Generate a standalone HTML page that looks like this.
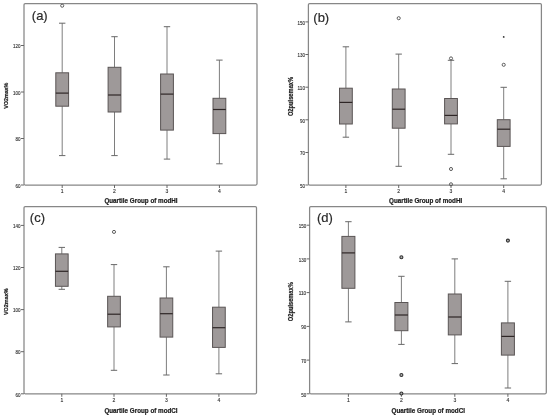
<!DOCTYPE html>
<html><head><meta charset="utf-8"><style>
html,body{margin:0;padding:0;background:#fff;}
body{width:550px;height:417px;overflow:hidden;}
svg{display:block;}
.tk{font-family:"Liberation Sans",Arial,sans-serif;font-size:5.0px;fill:#2e2e2e;stroke:#2e2e2e;stroke-width:0.12px;}
.at{font-family:"Liberation Sans",Arial,sans-serif;font-size:6.6px;font-weight:bold;fill:#1c1c1c;stroke:#1c1c1c;stroke-width:0.22px;}
.pl{font-family:"Liberation Sans",Arial,sans-serif;font-size:13px;fill:#2a2a2a;stroke:#2a2a2a;stroke-width:0.2px;}
</style></head><body>
<svg width="550" height="417" viewBox="0 0 550 417">
<rect width="550" height="417" fill="#fff"/>
<rect x="24" y="3.5" width="233" height="181.5" rx="1.2" fill="none" stroke="#878787" stroke-width="1.25"/>
<line x1="21" y1="185" x2="24" y2="185" stroke="#666" stroke-width="1"/>
<text x="20.6" y="187.7" class="tk" text-anchor="end" textLength="5" lengthAdjust="spacingAndGlyphs">60</text>
<line x1="21" y1="138.5" x2="24" y2="138.5" stroke="#666" stroke-width="1"/>
<text x="20.6" y="141.2" class="tk" text-anchor="end" textLength="5" lengthAdjust="spacingAndGlyphs">80</text>
<line x1="21" y1="92" x2="24" y2="92" stroke="#666" stroke-width="1"/>
<text x="20.6" y="94.7" class="tk" text-anchor="end" textLength="7.5" lengthAdjust="spacingAndGlyphs">100</text>
<line x1="21" y1="45.5" x2="24" y2="45.5" stroke="#666" stroke-width="1"/>
<text x="20.6" y="48.2" class="tk" text-anchor="end" textLength="7.5" lengthAdjust="spacingAndGlyphs">120</text>
<line x1="62.2" y1="185" x2="62.2" y2="188" stroke="#666" stroke-width="1"/>
<text x="62.2" y="192.8" class="tk" text-anchor="middle">1</text>
<line x1="114.5" y1="185" x2="114.5" y2="188" stroke="#666" stroke-width="1"/>
<text x="114.5" y="192.8" class="tk" text-anchor="middle">2</text>
<line x1="167" y1="185" x2="167" y2="188" stroke="#666" stroke-width="1"/>
<text x="167" y="192.8" class="tk" text-anchor="middle">3</text>
<line x1="219.4" y1="185" x2="219.4" y2="188" stroke="#666" stroke-width="1"/>
<text x="219.4" y="192.8" class="tk" text-anchor="middle">4</text>
<line x1="62.2" y1="23.2" x2="62.2" y2="72.8" stroke="#7e7e7e" stroke-width="1.0"/>
<line x1="62.2" y1="106.2" x2="62.2" y2="155.6" stroke="#7e7e7e" stroke-width="1.0"/>
<line x1="59" y1="23.2" x2="65.4" y2="23.2" stroke="#686868" stroke-width="1.0"/>
<line x1="59" y1="155.6" x2="65.4" y2="155.6" stroke="#686868" stroke-width="1.0"/>
<rect x="55.8" y="72.8" width="12.8" height="33.4" fill="#9e9999" stroke="#5a5555" stroke-width="1.0"/>
<line x1="55.8" y1="93.1" x2="68.6" y2="93.1" stroke="#2e2626" stroke-width="1.2"/>
<circle cx="62.2" cy="5.7" r="1.55" fill="none" stroke="#555" stroke-width="0.95"/>
<line x1="114.5" y1="36.7" x2="114.5" y2="67.3" stroke="#7e7e7e" stroke-width="1.0"/>
<line x1="114.5" y1="112" x2="114.5" y2="155.6" stroke="#7e7e7e" stroke-width="1.0"/>
<line x1="111.3" y1="36.7" x2="117.7" y2="36.7" stroke="#686868" stroke-width="1.0"/>
<line x1="111.3" y1="155.6" x2="117.7" y2="155.6" stroke="#686868" stroke-width="1.0"/>
<rect x="108.1" y="67.3" width="12.8" height="44.7" fill="#9e9999" stroke="#5a5555" stroke-width="1.0"/>
<line x1="108.1" y1="95" x2="120.9" y2="95" stroke="#2e2626" stroke-width="1.2"/>
<line x1="167" y1="26.7" x2="167" y2="74" stroke="#7e7e7e" stroke-width="1.0"/>
<line x1="167" y1="130.1" x2="167" y2="159.1" stroke="#7e7e7e" stroke-width="1.0"/>
<line x1="163.8" y1="26.7" x2="170.2" y2="26.7" stroke="#686868" stroke-width="1.0"/>
<line x1="163.8" y1="159.1" x2="170.2" y2="159.1" stroke="#686868" stroke-width="1.0"/>
<rect x="160.6" y="74" width="12.8" height="56.1" fill="#9e9999" stroke="#5a5555" stroke-width="1.0"/>
<line x1="160.6" y1="94.1" x2="173.4" y2="94.1" stroke="#2e2626" stroke-width="1.2"/>
<line x1="219.4" y1="60.1" x2="219.4" y2="98.3" stroke="#7e7e7e" stroke-width="1.0"/>
<line x1="219.4" y1="133.6" x2="219.4" y2="163.8" stroke="#7e7e7e" stroke-width="1.0"/>
<line x1="216.2" y1="60.1" x2="222.6" y2="60.1" stroke="#686868" stroke-width="1.0"/>
<line x1="216.2" y1="163.8" x2="222.6" y2="163.8" stroke="#686868" stroke-width="1.0"/>
<rect x="213" y="98.3" width="12.8" height="35.3" fill="#9e9999" stroke="#5a5555" stroke-width="1.0"/>
<line x1="213" y1="109.5" x2="225.8" y2="109.5" stroke="#2e2626" stroke-width="1.2"/>
<text x="31.8" y="19.9" class="pl">(a)</text>
<text x="141" y="202.6" class="at" text-anchor="middle" textLength="73.2" lengthAdjust="spacingAndGlyphs">Quartile Group of modHI</text>
<text transform="translate(8.3,95.7) rotate(-90)" class="at" style="font-size:6.1px" text-anchor="middle" textLength="26.0" lengthAdjust="spacingAndGlyphs">VO2max%</text>
<rect x="308.4" y="3.5" width="233" height="181.5" rx="1.2" fill="none" stroke="#878787" stroke-width="1.25"/>
<line x1="305.4" y1="185" x2="308.4" y2="185" stroke="#666" stroke-width="1"/>
<text x="305" y="187.7" class="tk" text-anchor="end" textLength="5" lengthAdjust="spacingAndGlyphs">50</text>
<line x1="305.4" y1="152.5" x2="308.4" y2="152.5" stroke="#666" stroke-width="1"/>
<text x="305" y="155.2" class="tk" text-anchor="end" textLength="5" lengthAdjust="spacingAndGlyphs">70</text>
<line x1="305.4" y1="119.8" x2="308.4" y2="119.8" stroke="#666" stroke-width="1"/>
<text x="305" y="122.5" class="tk" text-anchor="end" textLength="5" lengthAdjust="spacingAndGlyphs">90</text>
<line x1="305.4" y1="87.2" x2="308.4" y2="87.2" stroke="#666" stroke-width="1"/>
<text x="305" y="89.9" class="tk" text-anchor="end" textLength="7.5" lengthAdjust="spacingAndGlyphs">110</text>
<line x1="305.4" y1="54.5" x2="308.4" y2="54.5" stroke="#666" stroke-width="1"/>
<text x="305" y="57.2" class="tk" text-anchor="end" textLength="7.5" lengthAdjust="spacingAndGlyphs">130</text>
<line x1="305.4" y1="21.9" x2="308.4" y2="21.9" stroke="#666" stroke-width="1"/>
<text x="305" y="24.6" class="tk" text-anchor="end" textLength="7.5" lengthAdjust="spacingAndGlyphs">150</text>
<line x1="345.9" y1="185" x2="345.9" y2="188" stroke="#666" stroke-width="1"/>
<text x="345.9" y="192.8" class="tk" text-anchor="middle">1</text>
<line x1="398.7" y1="185" x2="398.7" y2="188" stroke="#666" stroke-width="1"/>
<text x="398.7" y="192.8" class="tk" text-anchor="middle">2</text>
<line x1="451" y1="185" x2="451" y2="188" stroke="#666" stroke-width="1"/>
<text x="451" y="192.8" class="tk" text-anchor="middle">3</text>
<line x1="503.7" y1="185" x2="503.7" y2="188" stroke="#666" stroke-width="1"/>
<text x="503.7" y="192.8" class="tk" text-anchor="middle">4</text>
<line x1="345.9" y1="46.8" x2="345.9" y2="88.2" stroke="#7e7e7e" stroke-width="1.0"/>
<line x1="345.9" y1="124" x2="345.9" y2="137.2" stroke="#7e7e7e" stroke-width="1.0"/>
<line x1="342.7" y1="46.8" x2="349.1" y2="46.8" stroke="#686868" stroke-width="1.0"/>
<line x1="342.7" y1="137.2" x2="349.1" y2="137.2" stroke="#686868" stroke-width="1.0"/>
<rect x="339.5" y="88.2" width="12.8" height="35.8" fill="#9e9999" stroke="#5a5555" stroke-width="1.0"/>
<line x1="339.5" y1="102.4" x2="352.3" y2="102.4" stroke="#2e2626" stroke-width="1.2"/>
<line x1="398.7" y1="54.1" x2="398.7" y2="89" stroke="#7e7e7e" stroke-width="1.0"/>
<line x1="398.7" y1="128.2" x2="398.7" y2="166.3" stroke="#7e7e7e" stroke-width="1.0"/>
<line x1="395.5" y1="54.1" x2="401.9" y2="54.1" stroke="#686868" stroke-width="1.0"/>
<line x1="395.5" y1="166.3" x2="401.9" y2="166.3" stroke="#686868" stroke-width="1.0"/>
<rect x="392.3" y="89" width="12.8" height="39.2" fill="#9e9999" stroke="#5a5555" stroke-width="1.0"/>
<line x1="392.3" y1="109.2" x2="405.1" y2="109.2" stroke="#2e2626" stroke-width="1.2"/>
<circle cx="398.7" cy="18.2" r="1.55" fill="none" stroke="#555" stroke-width="0.95"/>
<line x1="451" y1="60.3" x2="451" y2="98.5" stroke="#7e7e7e" stroke-width="1.0"/>
<line x1="451" y1="123.9" x2="451" y2="154.3" stroke="#7e7e7e" stroke-width="1.0"/>
<line x1="447.8" y1="60.3" x2="454.2" y2="60.3" stroke="#686868" stroke-width="1.0"/>
<line x1="447.8" y1="154.3" x2="454.2" y2="154.3" stroke="#686868" stroke-width="1.0"/>
<rect x="444.6" y="98.5" width="12.8" height="25.4" fill="#9e9999" stroke="#5a5555" stroke-width="1.0"/>
<line x1="444.6" y1="115.4" x2="457.4" y2="115.4" stroke="#2e2626" stroke-width="1.2"/>
<circle cx="451" cy="58.4" r="1.55" fill="none" stroke="#555" stroke-width="0.95"/>
<circle cx="451" cy="169" r="1.55" fill="none" stroke="#555" stroke-width="0.95"/>
<circle cx="451" cy="184.3" r="1.55" fill="none" stroke="#555" stroke-width="0.95"/>
<line x1="503.7" y1="87.3" x2="503.7" y2="119.7" stroke="#7e7e7e" stroke-width="1.0"/>
<line x1="503.7" y1="146.4" x2="503.7" y2="178.8" stroke="#7e7e7e" stroke-width="1.0"/>
<line x1="500.5" y1="87.3" x2="506.9" y2="87.3" stroke="#686868" stroke-width="1.0"/>
<line x1="500.5" y1="178.8" x2="506.9" y2="178.8" stroke="#686868" stroke-width="1.0"/>
<rect x="497.3" y="119.7" width="12.8" height="26.7" fill="#9e9999" stroke="#5a5555" stroke-width="1.0"/>
<line x1="497.3" y1="129.2" x2="510.1" y2="129.2" stroke="#2e2626" stroke-width="1.2"/>
<circle cx="503.7" cy="64.8" r="1.55" fill="none" stroke="#555" stroke-width="0.95"/>
<circle cx="503.7" cy="36.9" r="0.9" fill="#333"/>
<text x="313.3" y="21.7" class="pl">(b)</text>
<text x="425.6" y="202.6" class="at" text-anchor="middle" textLength="73.2" lengthAdjust="spacingAndGlyphs">Quartile Group of modHI</text>
<text transform="translate(292.6,96.5) rotate(-90)" class="at" style="font-size:6.6px" text-anchor="middle" textLength="39.2" lengthAdjust="spacingAndGlyphs">O2pulsemax%</text>
<rect x="24" y="206.5" width="232.5" height="187.3" rx="1.2" fill="none" stroke="#878787" stroke-width="1.25"/>
<line x1="21" y1="393.8" x2="24" y2="393.8" stroke="#666" stroke-width="1"/>
<text x="20.6" y="396.5" class="tk" text-anchor="end" textLength="5" lengthAdjust="spacingAndGlyphs">60</text>
<line x1="21" y1="351.7" x2="24" y2="351.7" stroke="#666" stroke-width="1"/>
<text x="20.6" y="354.4" class="tk" text-anchor="end" textLength="5" lengthAdjust="spacingAndGlyphs">80</text>
<line x1="21" y1="309.6" x2="24" y2="309.6" stroke="#666" stroke-width="1"/>
<text x="20.6" y="312.3" class="tk" text-anchor="end" textLength="7.5" lengthAdjust="spacingAndGlyphs">100</text>
<line x1="21" y1="267.5" x2="24" y2="267.5" stroke="#666" stroke-width="1"/>
<text x="20.6" y="270.2" class="tk" text-anchor="end" textLength="7.5" lengthAdjust="spacingAndGlyphs">120</text>
<line x1="21" y1="225.4" x2="24" y2="225.4" stroke="#666" stroke-width="1"/>
<text x="20.6" y="228.1" class="tk" text-anchor="end" textLength="7.5" lengthAdjust="spacingAndGlyphs">140</text>
<line x1="61.8" y1="393.8" x2="61.8" y2="396.8" stroke="#666" stroke-width="1"/>
<text x="61.8" y="401.6" class="tk" text-anchor="middle">1</text>
<line x1="114" y1="393.8" x2="114" y2="396.8" stroke="#666" stroke-width="1"/>
<text x="114" y="401.6" class="tk" text-anchor="middle">2</text>
<line x1="166.4" y1="393.8" x2="166.4" y2="396.8" stroke="#666" stroke-width="1"/>
<text x="166.4" y="401.6" class="tk" text-anchor="middle">3</text>
<line x1="218.9" y1="393.8" x2="218.9" y2="396.8" stroke="#666" stroke-width="1"/>
<text x="218.9" y="401.6" class="tk" text-anchor="middle">4</text>
<line x1="61.8" y1="247.4" x2="61.8" y2="253.9" stroke="#7e7e7e" stroke-width="1.0"/>
<line x1="61.8" y1="286.3" x2="61.8" y2="289.3" stroke="#7e7e7e" stroke-width="1.0"/>
<line x1="58.6" y1="247.4" x2="65" y2="247.4" stroke="#686868" stroke-width="1.0"/>
<line x1="58.6" y1="289.3" x2="65" y2="289.3" stroke="#686868" stroke-width="1.0"/>
<rect x="55.45" y="253.9" width="12.7" height="32.4" fill="#9e9999" stroke="#5a5555" stroke-width="1.0"/>
<line x1="55.45" y1="271.3" x2="68.15" y2="271.3" stroke="#2e2626" stroke-width="1.2"/>
<line x1="114" y1="264.6" x2="114" y2="296.3" stroke="#7e7e7e" stroke-width="1.0"/>
<line x1="114" y1="326.9" x2="114" y2="370.3" stroke="#7e7e7e" stroke-width="1.0"/>
<line x1="110.8" y1="264.6" x2="117.2" y2="264.6" stroke="#686868" stroke-width="1.0"/>
<line x1="110.8" y1="370.3" x2="117.2" y2="370.3" stroke="#686868" stroke-width="1.0"/>
<rect x="107.65" y="296.3" width="12.7" height="30.6" fill="#9e9999" stroke="#5a5555" stroke-width="1.0"/>
<line x1="107.65" y1="314.2" x2="120.35" y2="314.2" stroke="#2e2626" stroke-width="1.2"/>
<circle cx="114" cy="231.9" r="1.55" fill="none" stroke="#555" stroke-width="0.95"/>
<line x1="166.4" y1="266.8" x2="166.4" y2="298" stroke="#7e7e7e" stroke-width="1.0"/>
<line x1="166.4" y1="337.1" x2="166.4" y2="375" stroke="#7e7e7e" stroke-width="1.0"/>
<line x1="163.2" y1="266.8" x2="169.6" y2="266.8" stroke="#686868" stroke-width="1.0"/>
<line x1="163.2" y1="375" x2="169.6" y2="375" stroke="#686868" stroke-width="1.0"/>
<rect x="160.05" y="298" width="12.7" height="39.1" fill="#9e9999" stroke="#5a5555" stroke-width="1.0"/>
<line x1="160.05" y1="313.7" x2="172.75" y2="313.7" stroke="#2e2626" stroke-width="1.2"/>
<line x1="218.9" y1="251.1" x2="218.9" y2="307.2" stroke="#7e7e7e" stroke-width="1.0"/>
<line x1="218.9" y1="347.4" x2="218.9" y2="373.8" stroke="#7e7e7e" stroke-width="1.0"/>
<line x1="215.7" y1="251.1" x2="222.1" y2="251.1" stroke="#686868" stroke-width="1.0"/>
<line x1="215.7" y1="373.8" x2="222.1" y2="373.8" stroke="#686868" stroke-width="1.0"/>
<rect x="212.55" y="307.2" width="12.7" height="40.2" fill="#9e9999" stroke="#5a5555" stroke-width="1.0"/>
<line x1="212.55" y1="327.7" x2="225.25" y2="327.7" stroke="#2e2626" stroke-width="1.2"/>
<text x="29.8" y="221.5" class="pl">(c)</text>
<text x="141" y="412.6" class="at" text-anchor="middle" textLength="73.2" lengthAdjust="spacingAndGlyphs">Quartile Group of modCI</text>
<text transform="translate(8.4,301.8) rotate(-90)" class="at" style="font-size:6.2px" text-anchor="middle" textLength="26.6" lengthAdjust="spacingAndGlyphs">VO2max%</text>
<rect x="309.6" y="206.5" width="236.7" height="187.3" rx="1.2" fill="none" stroke="#878787" stroke-width="1.25"/>
<line x1="306.6" y1="393.8" x2="309.6" y2="393.8" stroke="#666" stroke-width="1"/>
<text x="306.2" y="396.5" class="tk" text-anchor="end" textLength="5" lengthAdjust="spacingAndGlyphs">50</text>
<line x1="306.6" y1="360.1" x2="309.6" y2="360.1" stroke="#666" stroke-width="1"/>
<text x="306.2" y="362.8" class="tk" text-anchor="end" textLength="5" lengthAdjust="spacingAndGlyphs">70</text>
<line x1="306.6" y1="326.4" x2="309.6" y2="326.4" stroke="#666" stroke-width="1"/>
<text x="306.2" y="329.1" class="tk" text-anchor="end" textLength="5" lengthAdjust="spacingAndGlyphs">90</text>
<line x1="306.6" y1="292.6" x2="309.6" y2="292.6" stroke="#666" stroke-width="1"/>
<text x="306.2" y="295.3" class="tk" text-anchor="end" textLength="7.5" lengthAdjust="spacingAndGlyphs">110</text>
<line x1="306.6" y1="258.9" x2="309.6" y2="258.9" stroke="#666" stroke-width="1"/>
<text x="306.2" y="261.6" class="tk" text-anchor="end" textLength="7.5" lengthAdjust="spacingAndGlyphs">130</text>
<line x1="306.6" y1="225.2" x2="309.6" y2="225.2" stroke="#666" stroke-width="1"/>
<text x="306.2" y="227.9" class="tk" text-anchor="end" textLength="7.5" lengthAdjust="spacingAndGlyphs">150</text>
<line x1="348.4" y1="393.8" x2="348.4" y2="396.8" stroke="#666" stroke-width="1"/>
<text x="348.4" y="401.6" class="tk" text-anchor="middle">1</text>
<line x1="401.4" y1="393.8" x2="401.4" y2="396.8" stroke="#666" stroke-width="1"/>
<text x="401.4" y="401.6" class="tk" text-anchor="middle">2</text>
<line x1="454.8" y1="393.8" x2="454.8" y2="396.8" stroke="#666" stroke-width="1"/>
<text x="454.8" y="401.6" class="tk" text-anchor="middle">3</text>
<line x1="507.9" y1="393.8" x2="507.9" y2="396.8" stroke="#666" stroke-width="1"/>
<text x="507.9" y="401.6" class="tk" text-anchor="middle">4</text>
<line x1="348.4" y1="221.7" x2="348.4" y2="236.4" stroke="#7e7e7e" stroke-width="1.0"/>
<line x1="348.4" y1="288.3" x2="348.4" y2="321.9" stroke="#7e7e7e" stroke-width="1.0"/>
<line x1="345.2" y1="221.7" x2="351.6" y2="221.7" stroke="#686868" stroke-width="1.0"/>
<line x1="345.2" y1="321.9" x2="351.6" y2="321.9" stroke="#686868" stroke-width="1.0"/>
<rect x="341.9" y="236.4" width="13" height="51.9" fill="#9e9999" stroke="#5a5555" stroke-width="1.0"/>
<line x1="341.9" y1="252.9" x2="354.9" y2="252.9" stroke="#2e2626" stroke-width="1.2"/>
<line x1="401.4" y1="276.3" x2="401.4" y2="302.5" stroke="#7e7e7e" stroke-width="1.0"/>
<line x1="401.4" y1="330.7" x2="401.4" y2="344.4" stroke="#7e7e7e" stroke-width="1.0"/>
<line x1="398.2" y1="276.3" x2="404.6" y2="276.3" stroke="#686868" stroke-width="1.0"/>
<line x1="398.2" y1="344.4" x2="404.6" y2="344.4" stroke="#686868" stroke-width="1.0"/>
<rect x="394.9" y="302.5" width="13" height="28.2" fill="#9e9999" stroke="#5a5555" stroke-width="1.0"/>
<line x1="394.9" y1="315" x2="407.9" y2="315" stroke="#2e2626" stroke-width="1.2"/>
<circle cx="401.4" cy="257.2" r="1.5" fill="#b0b0b0" stroke="#333" stroke-width="1.1"/>
<circle cx="401.4" cy="375" r="1.5" fill="#b0b0b0" stroke="#333" stroke-width="1.1"/>
<circle cx="401.4" cy="393.5" r="1.5" fill="#b0b0b0" stroke="#333" stroke-width="1.1"/>
<line x1="454.8" y1="258.9" x2="454.8" y2="294" stroke="#7e7e7e" stroke-width="1.0"/>
<line x1="454.8" y1="334.9" x2="454.8" y2="363.6" stroke="#7e7e7e" stroke-width="1.0"/>
<line x1="451.6" y1="258.9" x2="458" y2="258.9" stroke="#686868" stroke-width="1.0"/>
<line x1="451.6" y1="363.6" x2="458" y2="363.6" stroke="#686868" stroke-width="1.0"/>
<rect x="448.3" y="294" width="13" height="40.9" fill="#9e9999" stroke="#5a5555" stroke-width="1.0"/>
<line x1="448.3" y1="317" x2="461.3" y2="317" stroke="#2e2626" stroke-width="1.2"/>
<line x1="507.9" y1="281.3" x2="507.9" y2="322.9" stroke="#7e7e7e" stroke-width="1.0"/>
<line x1="507.9" y1="355.1" x2="507.9" y2="388" stroke="#7e7e7e" stroke-width="1.0"/>
<line x1="504.7" y1="281.3" x2="511.1" y2="281.3" stroke="#686868" stroke-width="1.0"/>
<line x1="504.7" y1="388" x2="511.1" y2="388" stroke="#686868" stroke-width="1.0"/>
<rect x="501.4" y="322.9" width="13" height="32.2" fill="#9e9999" stroke="#5a5555" stroke-width="1.0"/>
<line x1="501.4" y1="336.4" x2="514.4" y2="336.4" stroke="#2e2626" stroke-width="1.2"/>
<circle cx="507.9" cy="240.6" r="1.5" fill="#b0b0b0" stroke="#333" stroke-width="1.1"/>
<text x="316.9" y="221.5" class="pl">(d)</text>
<text x="428.3" y="412.6" class="at" text-anchor="middle" textLength="73.4" lengthAdjust="spacingAndGlyphs">Quartile Group of modCI</text>
<text transform="translate(293.2,301.7) rotate(-90)" class="at" style="font-size:6.6px" text-anchor="middle" textLength="38.9" lengthAdjust="spacingAndGlyphs">O2pulsemax%</text>
</svg>
</body></html>
